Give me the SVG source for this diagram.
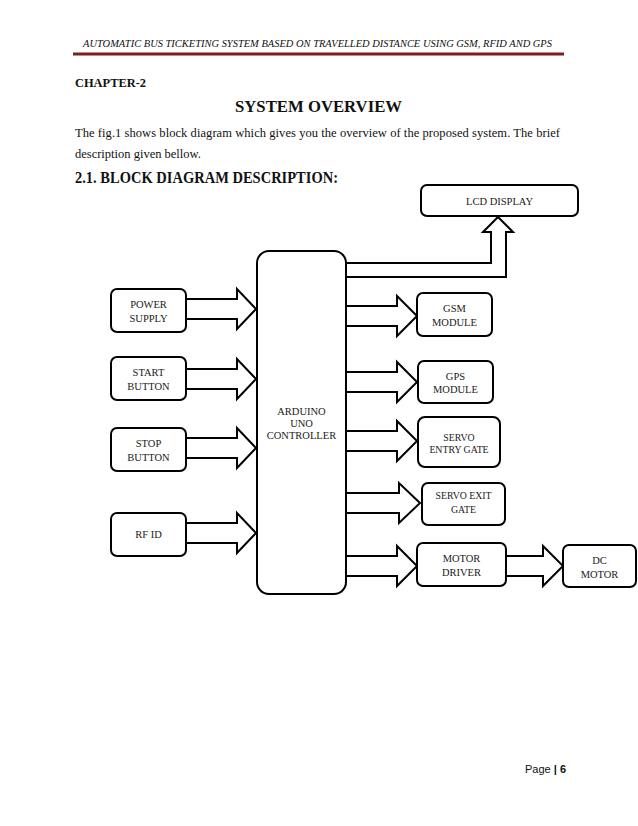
<svg xmlns="http://www.w3.org/2000/svg" width="638" height="826" viewBox="0 0 638 826">
<style>
.box{fill:#fff;stroke:#000;stroke-width:2}
.arrow{fill:#fff;stroke:#000;stroke-width:2;stroke-linejoin:miter}
.lbl{font-family:"Liberation Serif","Times New Roman",serif;font-size:10.5px;text-anchor:middle;fill:#1a1a1a}
.sm{font-size:9.8px}
.doc{font-family:"Liberation Serif","Times New Roman",serif;fill:#111}
</style>
<rect x="0" y="0" width="638" height="826" fill="#fff"/>
<g id="page-header">
<text class="doc" x="83" y="47" font-size="10.5" font-style="italic" textLength="469" lengthAdjust="spacingAndGlyphs">AUTOMATIC BUS TICKETING SYSTEM BASED ON TRAVELLED DISTANCE USING GSM, RFID AND GPS</text>
<rect x="73" y="52.5" width="491" height="3" fill="#7d1f1f"/>
</g>
<g id="page-text">
<text class="doc" x="75" y="87" font-size="12.5" font-weight="bold" textLength="71" lengthAdjust="spacingAndGlyphs">CHAPTER-2</text>
<text class="doc" x="235" y="112" font-size="17" font-weight="bold" textLength="167" lengthAdjust="spacingAndGlyphs">SYSTEM OVERVIEW</text>
<text class="doc" x="75" y="137" font-size="12.5" textLength="485" lengthAdjust="spacing">The fig.1 shows block diagram which gives you the overview of the proposed system. The brief</text>
<text class="doc" x="75" y="158" font-size="12.5">description given bellow.</text>
<text class="doc" x="75" y="183" font-size="17.5" font-weight="bold" textLength="263" lengthAdjust="spacingAndGlyphs">2.1. BLOCK DIAGRAM DESCRIPTION:</text>
</g>
<g id="connectors">
<polyline class="arrow" points="186,299 237,299 237,289 256,309 237,329 237,319 186,319"/>
<polyline class="arrow" points="186,369 237,369 237,359 256,379 237,399 237,389 186,389"/>
<polyline class="arrow" points="186,438 237,438 237,428 256,448 237,468 237,458 186,458"/>
<polyline class="arrow" points="186,523 237,523 237,513 256,533 237,553 237,543 186,543"/>
<polyline class="arrow" points="346,263 491,263 491,232 483,232 498,217 513,232 506,232 506,277 346,277"/>
<polyline class="arrow" points="346,306 397,306 397,296 417,316 397,336 397,326 346,326"/>
<polyline class="arrow" points="346,372 397,372 397,362 417,382 397,402 397,392 346,392"/>
<polyline class="arrow" points="346,431 397,431 397,421 417,441 397,461 397,451 346,451"/>
<polyline class="arrow" points="346,493 399,493 399,483 420,503 399,523 399,513 346,513"/>
<polyline class="arrow" points="346,556 397,556 397,546 417,566 397,586 397,576 346,576"/>
<polyline class="arrow" points="506,556 543,556 543,546 563,566 543,586 543,576 506,576"/>
</g>
<g id="arduino">
<rect class="box" x="257" y="251" width="89" height="343" rx="12"/>
<text class="lbl" x="301.5" y="415">ARDUINO</text>
<text class="lbl" x="301.5" y="427">UNO</text>
<text class="lbl" x="301.5" y="439">CONTROLLER</text>
</g>
<g id="power-supply">
<rect class="box" x="111" y="289" width="75" height="43" rx="6"/>
<text class="lbl" x="148.5" y="308">POWER</text>
<text class="lbl" x="148.5" y="322">SUPPLY</text>
</g>
<g id="start-button">
<rect class="box" x="111" y="357" width="75" height="43" rx="6"/>
<text class="lbl" x="148.5" y="376">START</text>
<text class="lbl" x="148.5" y="390">BUTTON</text>
</g>
<g id="stop-button">
<rect class="box" x="111" y="428" width="75" height="43" rx="6"/>
<text class="lbl" x="148.5" y="447">STOP</text>
<text class="lbl" x="148.5" y="461">BUTTON</text>
</g>
<g id="rf-id">
<rect class="box" x="111" y="513" width="75" height="43" rx="6"/>
<text class="lbl" x="148.5" y="538">RF ID</text>
</g>
<g id="lcd-display">
<rect class="box" x="421" y="185" width="157" height="31" rx="6"/>
<text class="lbl" x="499.5" y="205">LCD DISPLAY</text>
</g>
<g id="gsm-module">
<rect class="box" x="417" y="293" width="75" height="43" rx="6"/>
<text class="lbl" x="454.5" y="312">GSM</text>
<text class="lbl" x="454.5" y="326">MODULE</text>
</g>
<g id="gps-module">
<rect class="box" x="418" y="361" width="75" height="42" rx="6"/>
<text class="lbl" x="455.5" y="380">GPS</text>
<text class="lbl" x="455.5" y="393">MODULE</text>
</g>
<g id="servo-entry-gate">
<rect class="box" x="418" y="417" width="82" height="50" rx="7"/>
<text class="lbl sm" x="459" y="441">SERVO</text>
<text class="lbl sm" x="459" y="453">ENTRY GATE</text>
</g>
<g id="servo-exit-gate">
<rect class="box" x="422" y="483" width="83" height="42" rx="6"/>
<text class="lbl sm" x="463.5" y="499">SERVO EXIT</text>
<text class="lbl sm" x="463.5" y="513">GATE</text>
</g>
<g id="motor-driver">
<rect class="box" x="417" y="543" width="89" height="43" rx="6"/>
<text class="lbl" x="461.5" y="562">MOTOR</text>
<text class="lbl" x="461.5" y="576">DRIVER</text>
</g>
<g id="dc-motor">
<rect class="box" x="563" y="545" width="73" height="42" rx="6"/>
<text class="lbl" x="599.5" y="564">DC</text>
<text class="lbl" x="599.5" y="578">MOTOR</text>
</g>
<g id="page-footer">
<text x="525" y="773" font-family="'Liberation Sans',Arial,sans-serif" font-size="11" fill="#111">Page <tspan font-weight="bold">| 6</tspan></text>
</g>
</svg>
